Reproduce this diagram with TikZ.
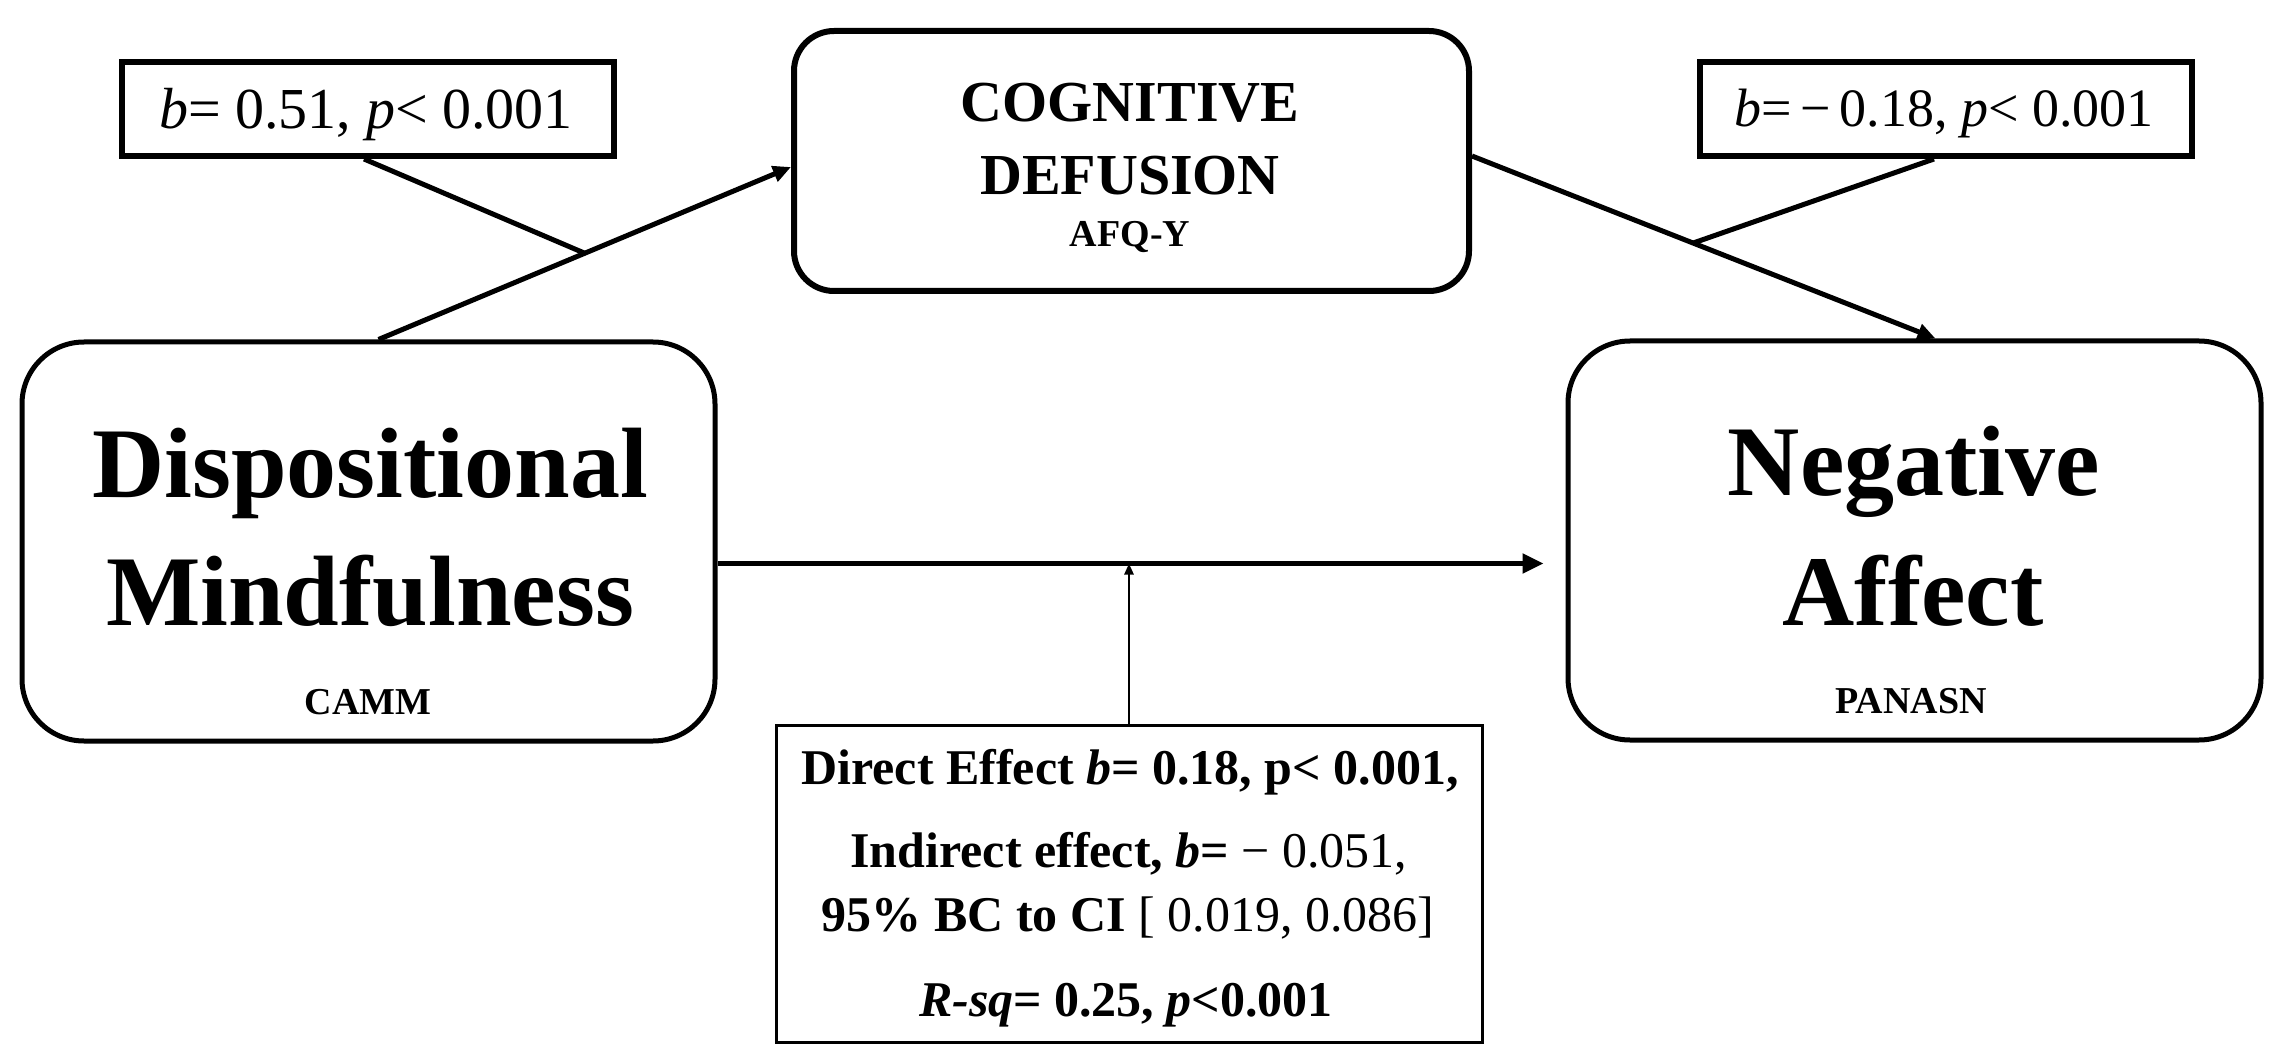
\documentclass[tikz,border=0pt]{standalone}
\usepackage{fontspec}
\setmainfont{Liberation Serif}
\usetikzlibrary{arrows.meta,calc}
\begin{document}
\begin{tikzpicture}[x=1pt,y=-1pt,
  bigbox/.style={draw, line width=5pt, rounded corners=62pt, minimum width=693pt, minimum height=399pt, inner sep=0pt},
  midbox/.style={draw, line width=6pt, rounded corners=40pt, minimum width=675pt, minimum height=260pt, inner sep=0pt},
  lblbox/.style={draw, line width=6pt, minimum width=492pt, minimum height=94pt, inner sep=0pt},
  resbox/.style={draw, line width=3pt, minimum width=706pt, minimum height=317pt, inner sep=0pt},
  bigtxt/.style={anchor=base, inner sep=0pt, font=\fontsize{100}{110}\selectfont\bfseries},
  midtxt/.style={anchor=base, inner sep=0pt, font=\fontsize{58}{64}\selectfont\bfseries},
  subtxt/.style={anchor=base, inner sep=0pt, font=\fontsize{38}{42}\selectfont\bfseries},
  lbltxt/.style={anchor=base, inner sep=0pt, font=\fontsize{58}{64}\selectfont},
  restxt/.style={anchor=base, inner sep=0pt, font=\fontsize{50}{56}\selectfont},
  arr/.style={line width=5pt, -{Triangle[length=18pt,width=16pt]}},
  harr/.style={line width=5pt, -{Triangle[length=21pt,width=19pt]}},
  thinarr/.style={line width=2.5pt, -{Triangle[length=11pt,width=9pt]}},
  lead/.style={line width=5pt}
]
\useasboundingbox (0,0) rectangle (2279,1059);

% main boxes
\node[bigbox] (dm) at (368.5,541.5) {};
\node[bigtxt] (dm1) at (370,497) {Dispositional};
\node[bigtxt] (dm2) at (370,625) {Mindfulness};
\node[subtxt] (dm3) at (368,714) {CAMM};

\node[bigbox] (na) at (1914.5,540.5) {};
\node[bigtxt] (na1) at (1914,495) {Negative};
\node[bigtxt] (na2) at (1913,625) {Affect};
\node[subtxt] (na3) at (1911,713) {PANASN};

\node[midbox] (cd) at (1131.5,161) {};
\node[midtxt] (cd1) at (1130,122) {COGNITIVE};
\node[midtxt] (cd2) at (1130,195) {DEFUSION};
\node[subtxt] (cd3) at (1130,247) {AFQ-Y};

% coefficient label boxes
\node[lblbox] (b1) at (368,109) {};
\node[lbltxt] (b1t) at (366,129) {\textit{b}= 0.51, \textit{p}< 0.001};
\node[lblbox] (b3) at (1946,109) {};
\node[lbltxt, font=\fontsize{54}{60}\selectfont] (b3t) at (1944,127) {\textit{b}=\,−\,0.18, \textit{p}< 0.001};

% result box
\node[resbox] (rb) at (1129,883.5) {};
\node[restxt] (r1) at (1130,784) {\textbf{Direct Effect \textit{b}= 0.18, p< 0.001,}};
\node[restxt] (r2) at (1129,867) {\textbf{Indirect effect, \textit{b}=} − 0.051,};
\node[restxt] (r3) at (1128,931) {\textbf{95\% BC to CI} [ 0.019, 0.086]};
\node[restxt] (r4) at (1126,1016) {\textbf{\textit{R-sq}= 0.25, \textit{p}<0.001}};

% connectors
\draw[arr] ([xshift=10pt]dm.north) -- coordinate[pos=0.5] (m1) ([yshift=-6pt]cd.west);
\draw[arr] ([yshift=5pt]cd.east) -- coordinate[pos=0.477] (m3) ([xshift=21pt]na.north);
\coordinate (hl) at ([yshift=-22pt]dm.east);
\draw[harr, shorten >=22pt] (hl) -- (hl -| na.west);
\draw[thinarr] (rb.north) -- (rb.north |- hl);
\draw[lead] ([xshift=-4pt]b1.south) -- (m1);
\draw[lead] ([xshift=-12pt]b3.south) -- (m3);
\end{tikzpicture}
\end{document}
